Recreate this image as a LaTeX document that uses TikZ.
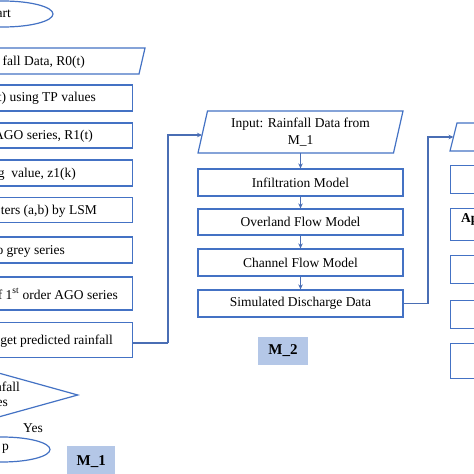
\documentclass[tikz,border=0pt]{standalone}
\usepackage{fontspec}
\setmainfont{Liberation Serif}
\usetikzlibrary{shapes.geometric,arrows.meta}
\definecolor{boxblue}{RGB}{68,114,196}
\definecolor{lineblue}{RGB}{74,110,180}
\definecolor{labfill}{RGB}{180,199,231}
\tikzset{
  box/.style={draw=boxblue, line width=1.2pt, rectangle, inner sep=0pt},
  paraline/.style={draw=boxblue, line width=1.2pt, line join=miter},
  txt/.style={inner sep=0pt, font=\fontsize{13.5}{17}\selectfont},
  conn/.style={draw=lineblue, line width=1.1pt, -{Stealth[length=5pt,width=4.5pt]}},
  wire/.style={draw=lineblue, line width=1.1pt},
  mlabel/.style={fill=labfill, inner sep=0pt, font=\fontsize{15}{18}\selectfont\bfseries}
}
\begin{document}
\begin{tikzpicture}[x=1pt,y=-1pt]
\useasboundingbox (0,0) rectangle (474,474);
\clip (0,0) rectangle (474,474);
\fill[white] (0,0) rectangle (474,474);

% ---------- left column (M_1) ----------
\node[box, ellipse, minimum width=100pt, minimum height=26pt] (start) at (3,14) {};
\node[txt, anchor=east] (starttxt) at (11,14) {art};

\draw[paraline] (-60,74) -- (139,74) -- (145,48) -- (-54,48) -- cycle;
\node[txt, anchor=east] (in0txt) at (85,62) {fall Data, R0(t)};

\node[box, minimum width=200pt, minimum height=26pt, anchor=east] (b2) at (133,98) {};
\node[txt, anchor=east] (b2txt) at (96,98) {t) using TP values};

\node[box, minimum width=200pt, minimum height=25pt, anchor=east] (b3) at (133,135.5) {};
\node[txt, anchor=east] (b3txt) at (93,136) {AGO series, R1(t)};

\node[box, minimum width=200pt, minimum height=26pt, anchor=east] (b4) at (133,173) {};
\node[txt, anchor=east] (b4txt) at (76,174) {g\ \ value, z1(k)};

\node[box, minimum width=200pt, minimum height=25pt, anchor=east] (b5) at (133,210) {};
\node[txt, anchor=east] (b5txt) at (97,211) {ters (a,b) by LSM};

\node[box, minimum width=200pt, minimum height=26pt, anchor=east] (b6) at (133,250) {};
\node[txt, anchor=east] (b6txt) at (65,251) {o grey series};

\node[box, minimum width=200pt, minimum height=33pt, anchor=east] (b7) at (133,293.5) {};
\node[txt, anchor=east] (b7txt) at (118,294) {f 1\textsuperscript{st} order AGO series};

\node[box, minimum width=200pt, minimum height=35pt, anchor=east] (b8) at (133,340) {};
\node[txt, anchor=east] (b8txt) at (113,341) {get predicted rainfall};

\node[box, diamond, minimum width=186pt, minimum height=52pt] (dec) at (-15,395) {};
\node[txt, anchor=east] (dectxt1) at (20,387) {nfall};
\node[txt, anchor=east] (dectxt2) at (8,403) {es};

\node[txt] (yes) at (33,428) {Yes};

\node[box, ellipse, minimum width=96pt, minimum height=25pt] (stop) at (2,449.5) {};
\node[txt, anchor=east] (stoptxt) at (9,449) {p};

\node[mlabel, minimum width=48pt, minimum height=30pt, anchor=north west] (m1) at (67,446) {M\_1};

% ---------- middle column (M_2) ----------
\draw[paraline] (198,153) -- (393.5,153) -- (403,111) -- (207.5,111) -- cycle;
\node[txt, align=center] (in1) at (300.5,132) {Input: Rainfall Data from\\M\_1};
\coordinate (in1w) at (202,135);
\coordinate (in1s) at (300.5,153);

\node[box, minimum width=205pt, minimum height=27pt] (inf) at (300.5,182.5) {};
\node[txt] at (inf) {Infiltration Model};
\node[box, minimum width=205pt, minimum height=26pt] (ovl) at (300.5,222) {};
\node[txt] at (ovl) {Overland Flow Model};
\node[box, minimum width=205pt, minimum height=27pt] (chn) at (300.5,262.5) {};
\node[txt] at (chn) {Channel Flow Model};
\node[box, minimum width=205pt, minimum height=27pt] (sim) at (300.5,303.5) {};
\node[txt] at (sim) {Simulated Discharge Data};

\node[mlabel, minimum width=50pt, minimum height=28pt] (m2) at (283,351) {M\_2};

\draw[conn] (in1s) -- (inf.north);
\draw[conn] (inf) -- (ovl);
\draw[conn] (ovl) -- (chn);
\draw[conn] (chn) -- (sim);

% ---------- right column (M_3, partly shown) ----------
\draw[paraline] (450,151) -- (620,151) -- (627,123) -- (457,123) -- cycle;
\coordinate (in3w) at (453.5,137);
\node[box, minimum width=150pt, minimum height=28pt, anchor=north west] (r1) at (450,165) {};
\node[box, minimum width=150pt, minimum height=32pt, anchor=north west] (r2) at (450,208) {};
\node[txt, anchor=west, font=\fontsize{13.5}{17}\selectfont\bfseries] (r2txt) at (461,219) {Ap};
\node[box, minimum width=150pt, minimum height=28pt, anchor=north west] (r3) at (450,255) {};
\node[box, minimum width=150pt, minimum height=28pt, anchor=north west] (r4) at (450,300) {};
\node[box, minimum width=150pt, minimum height=35pt, anchor=north west] (r5) at (450,343) {};

% ---------- connectors between modules ----------
\coordinate (j1) at (168,343);
\draw[wire] (b8.east |- j1) -- (j1);
\draw[conn] (j1) |- (in1w);
\coordinate (j2) at (428,303.5);
\draw[conn] (sim.east) -- (j2) |- (in3w);
\end{tikzpicture}
\end{document}
